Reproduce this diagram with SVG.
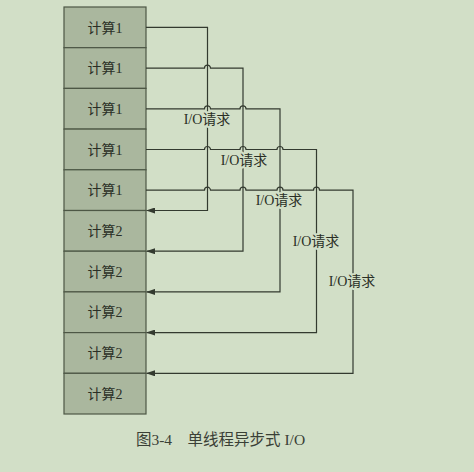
<svg xmlns="http://www.w3.org/2000/svg" width="474" height="472" viewBox="0 0 474 472">
<defs>
<style>
.box{fill:#aab79e;stroke:#4d5745;stroke-width:1.2}
.bt{font-family:"Liberation Serif","Noto Sans CJK SC",serif;font-size:14px;fill:#2a2f26;text-anchor:middle}
.ln{fill:none;stroke:#333a2f;stroke-width:1.2}
.lb{font-family:"Liberation Serif","Noto Sans CJK SC",serif;font-size:14px;fill:#2a2f26;text-anchor:middle;stroke:#d2dfc7;stroke-width:4;paint-order:stroke;stroke-linejoin:round}
.cap{font-family:"Liberation Serif","Noto Sans CJK SC",serif;font-size:15.5px;fill:#3a4036;text-anchor:middle}
</style>
<marker id="arr" markerWidth="9" markerHeight="6" refX="8" refY="3" orient="auto" markerUnits="userSpaceOnUse">
<path d="M0,0 L9,3 L0,6 z" fill="#333a2f"/>
</marker>
</defs>
<rect width="474" height="472" fill="#d2dfc7"/>
<g id="n1"><rect class="box" x="64" y="7" width="82" height="40.7"/><text class="bt" x="105" y="32.5">计算1</text></g>
<g id="n2"><rect class="box" x="64" y="47.7" width="82" height="40.7"/><text class="bt" x="105" y="73.2">计算1</text></g>
<g id="n3"><rect class="box" x="64" y="88.4" width="82" height="40.7"/><text class="bt" x="105" y="113.9">计算1</text></g>
<g id="n4"><rect class="box" x="64" y="129.1" width="82" height="40.7"/><text class="bt" x="105" y="154.6">计算1</text></g>
<g id="n5"><rect class="box" x="64" y="169.8" width="82" height="40.7"/><text class="bt" x="105" y="195.3">计算1</text></g>
<g id="n6"><rect class="box" x="64" y="210.5" width="82" height="40.7"/><text class="bt" x="105" y="236">计算2</text></g>
<g id="n7"><rect class="box" x="64" y="251.2" width="82" height="40.7"/><text class="bt" x="105" y="276.7">计算2</text></g>
<g id="n8"><rect class="box" x="64" y="291.9" width="82" height="40.7"/><text class="bt" x="105" y="317.4">计算2</text></g>
<g id="n9"><rect class="box" x="64" y="332.6" width="82" height="40.7"/><text class="bt" x="105" y="358.1">计算2</text></g>
<g id="n10"><rect class="box" x="64" y="373.3" width="82" height="40.7"/><text class="bt" x="105" y="398.8">计算2</text></g>
<g id="connectors">
<path class="ln" marker-end="url(#arr)" d="M146,27.4 H207.5 V210.5 H147"/>
<path class="ln" marker-end="url(#arr)" d="M146,68.1 H204.5 a3,3 0 0 1 6,0 H243 V251.2 H147"/>
<path class="ln" marker-end="url(#arr)" d="M146,108.8 H204.5 a3,3 0 0 1 6,0 H240 a3,3 0 0 1 6,0 H280 V291.9 H147"/>
<path class="ln" marker-end="url(#arr)" d="M146,149.5 H204.5 a3,3 0 0 1 6,0 H240 a3,3 0 0 1 6,0 H277 a3,3 0 0 1 6,0 H316.5 V332.6 H147"/>
<path class="ln" marker-end="url(#arr)" d="M146,190.2 H204.5 a3,3 0 0 1 6,0 H240 a3,3 0 0 1 6,0 H277 a3,3 0 0 1 6,0 H313.5 a3,3 0 0 1 6,0 H353 V373.3 H147"/>
<text class="lb" x="207" y="124">I/O请求</text>
<text class="lb" x="244" y="164.5">I/O请求</text>
<text class="lb" x="279" y="205">I/O请求</text>
<text class="lb" x="316" y="245.5">I/O请求</text>
<text class="lb" x="352" y="285.5">I/O请求</text>
</g>
<text class="cap" x="220.5" y="445">图3-4　单线程异步式 I/O</text>
</svg>
